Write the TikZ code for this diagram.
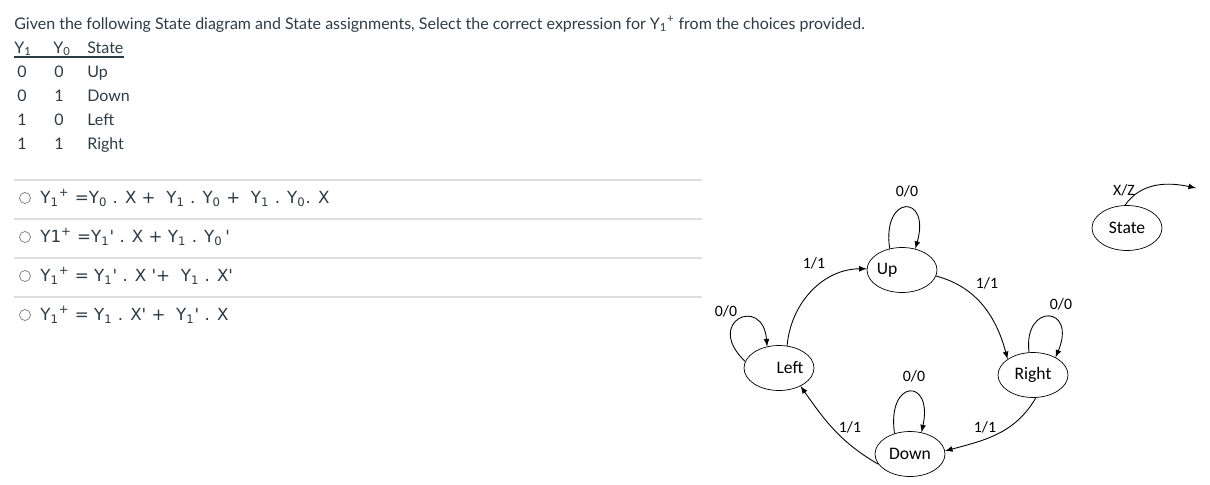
\documentclass[tikz,border=0pt]{standalone}
\usepackage{fontspec}
\setmainfont{Lato}
\newfontfamily\optfont{DejaVu Sans}
\newfontfamily\diagfont{Carlito}
\usetikzlibrary{shapes.geometric}
\definecolor{canvastext}{RGB}{45,59,69}
\definecolor{rulegray}{RGB}{221,221,221}
\definecolor{radiogray}{RGB}{120,120,120}

\begin{document}
\begin{tikzpicture}[
    x=0.02cm, y=-0.02cm,
    qtext/.style={anchor=base west, inner sep=0pt, text=canvastext,
                  font=\fontsize{9.1}{11}\selectfont},
    opt/.style={anchor=base west, inner sep=0pt, text=canvastext,
                font=\optfont\fontsize{9.5}{12}\selectfont},
    radio/.style={circle, draw=radiogray, minimum size=0.22cm, inner sep=0pt},
    state/.style={ellipse, draw, minimum width=1.4cm, minimum height=0.9cm,
                  inner sep=0pt},
    stxt/.style={font=\diagfont\fontsize{10}{12}\selectfont},
    lbl/.style={font=\diagfont\fontsize{9}{11}\selectfont, inner sep=0pt},
    arrow/.style={->, >=latex, line width=0.5pt}
]
\useasboundingbox (0,0) rectangle (1210,484);

% Question
\node[qtext] (title) at (14,29) {Given the following State diagram and State
  assignments, Select the correct expression for
  Y\textsubscript{1}\textsuperscript{+} from the choices provided.};

% State assignments
\node[qtext] (h1) at (14,53) {Y\textsubscript{1}};
\node[qtext] (h0) at (53,53) {Y\textsubscript{0}};
\node[qtext] (hs) at (87,53) {State};
\draw[canvastext, line width=0.6pt] (14,57) -- (124,57);
\foreach \a/\b/\s [count=\i] in {0/0/Up, 0/1/Down, 1/0/Left, 1/1/Right} {
  \node[qtext, anchor=base] (a\i) at (22,53+24*\i) {\a};
  \node[qtext, anchor=base] (b\i) at (59,53+24*\i) {\b};
  \node[qtext] (s\i) at (87,53+24*\i) {\s};
}

% Choices
\foreach \y in {180,219,258,297}
  \draw[rulegray, line width=0.6pt] (14,\y) -- (702,\y);
\foreach \i in {1,...,4}
  \node[radio] (r\i) at (25,159+39*\i) {};
\node[opt] (o1) at (40,203) {Y\textsubscript{1}\textsuperscript{+} =Y\textsubscript{0} . X + \
  Y\textsubscript{1} . Y\textsubscript{0} + \ Y\textsubscript{1} . Y\textsubscript{0}. X};
\node[opt] (o2) at (40,242) {Y1\textsuperscript{+} =Y\textsubscript{1}' . X + Y\textsubscript{1} . Y\textsubscript{0}\,'};
\node[opt] (o3) at (40,281) {Y\textsubscript{1}\textsuperscript{+} = Y\textsubscript{1}' . X '+ \
  Y\textsubscript{1} . X'};
\node[opt] (o4) at (40,320) {Y\textsubscript{1}\textsuperscript{+} = Y\textsubscript{1} . X' + \
  Y\textsubscript{1}' . X};

% State diagram
\node[state, label={[stxt, xshift=-0.3cm]center:Up}] (Up) at (902,270) {};
\node[state, label={[stxt, xshift=0.22cm]center:Left}] (Left) at (779,368) {};
\node[state, stxt] (Down) at (910,454) {Down};
\node[state, stxt] (Right) at (1033,375) {Right};
\node[state, stxt] (State) at (1127,228) {State};
\coordinate (sEnd) at (1196,188);

% self loops
\draw[arrow] (Up.120) .. controls +(-8,-55) and +(16,-55) .. (Up.58);
\draw[arrow] (Left.169) .. controls +(-42,-40) and +(-4,-52) .. (Left.119);
\draw[arrow] (Down.127) .. controls +(-8,-55) and +(12,-55) .. (Down.62);
\draw[arrow] (Right.100) .. controls +(-6,-50) and +(22,-52) .. (Right.38);

% transitions
\draw[arrow] (Left.70) to[out=85, in=180] (Up.178);
\draw[arrow] (Up.-10) to[out=-15, in=105] (Right.148);
\draw[arrow] (Right.-83) to[out=-120, in=15] (Down.5);
\draw[arrow] (Down.198) to[out=150, in=-55] (Left.-40);
\draw[arrow] (State.95) to[out=55, in=168] (sEnd);

% labels
\node[lbl] (lUp) at (907,191) {0/0};
\node[lbl] (lLeft) at (726,311) {0/0};
\node[lbl] (lDown) at (914,376) {0/0};
\node[lbl] (lRight) at (1061,304) {0/0};
\node[lbl] (lLU) at (814,263) {1/1};
\node[lbl] (lUR) at (987,283) {1/1};
\node[lbl] (lRD) at (985,427) {1/1};
\node[lbl] (lDL) at (850,427) {1/1};
\node[lbl] (lState) at (1124,190) {X/Z};
\end{tikzpicture}
\end{document}
